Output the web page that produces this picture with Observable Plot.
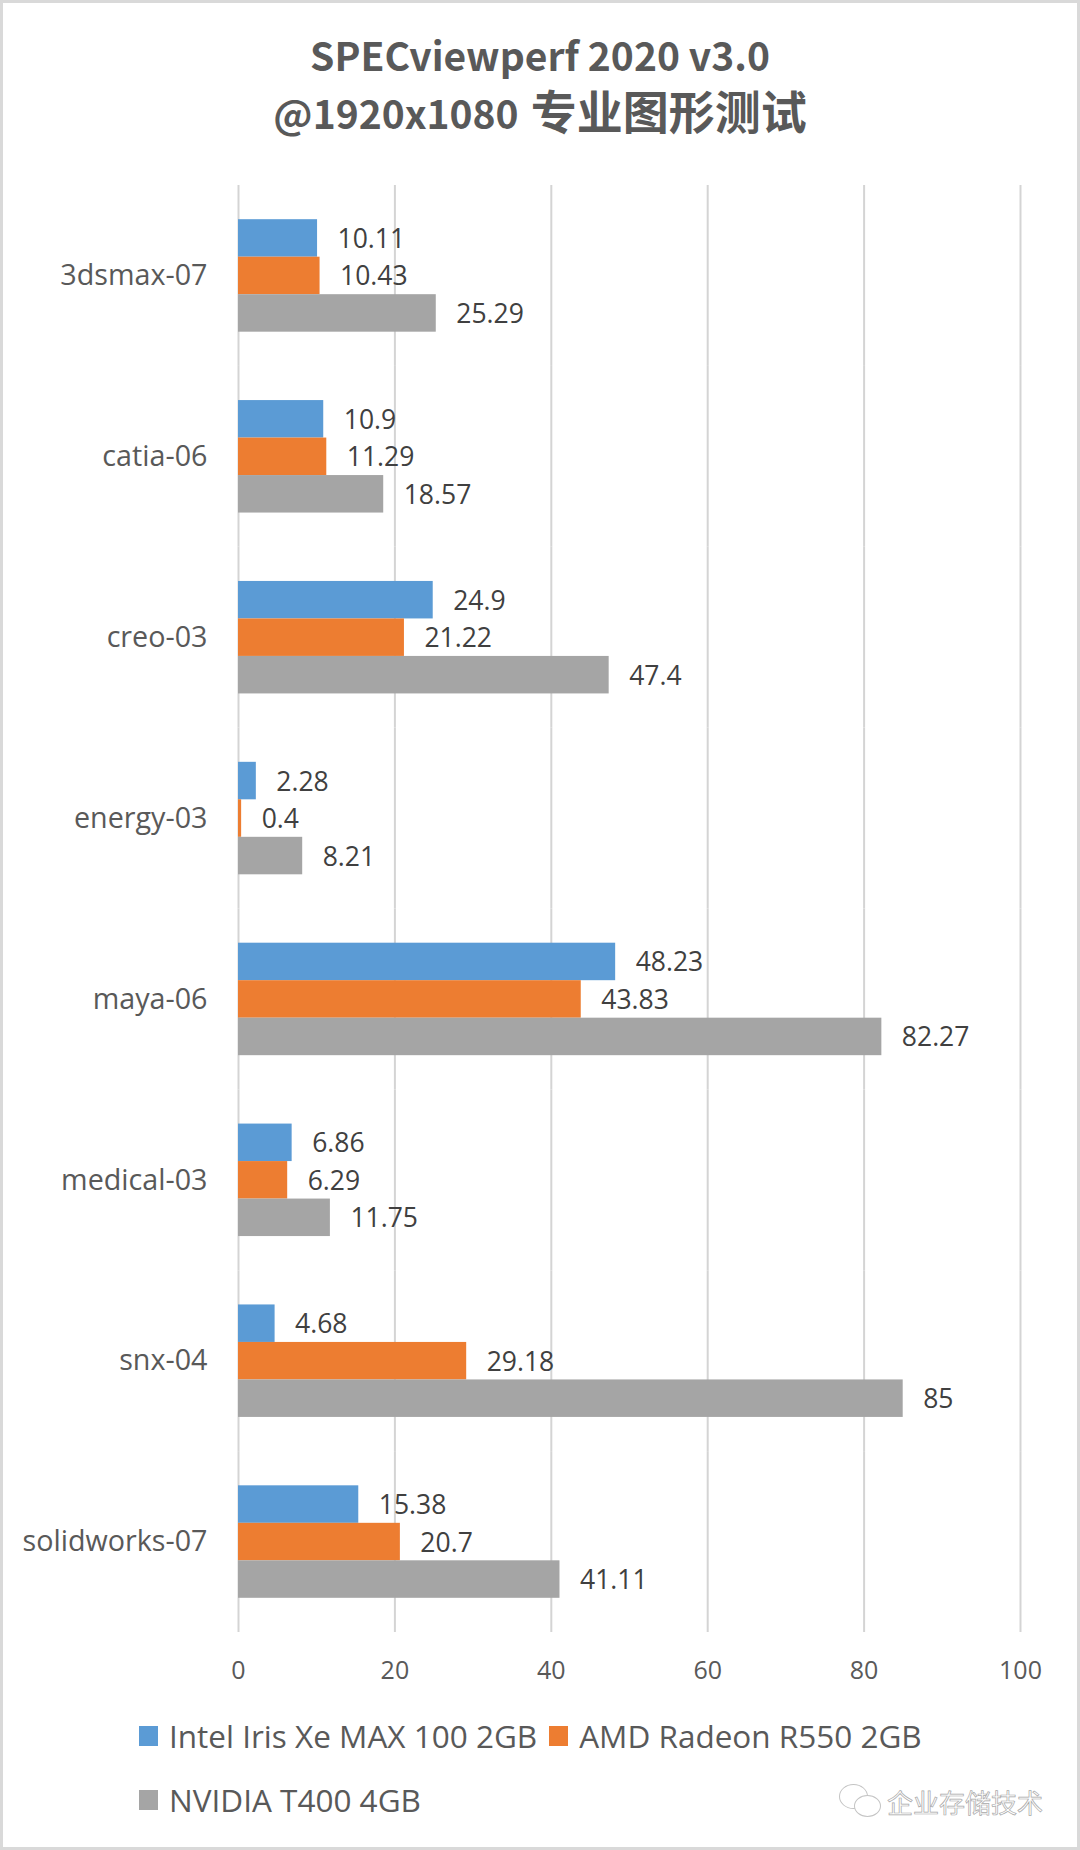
<!DOCTYPE html>
<html lang="zh">
<head>
<meta charset="utf-8">
<script src="https://cdn.jsdelivr.net/npm/d3@7"></script>
<script src="https://cdn.jsdelivr.net/npm/@observablehq/plot@0.6"></script>
<style>
  html, body { margin: 0; padding: 0; background: #fff; }
  #page { position: relative; width: 1080px; height: 1850px; overflow: hidden; background: #fff; font-family: "Open Sans", sans-serif; }
  #frame { position: absolute; inset: 0; border: 3px solid #d9d9d9; box-sizing: border-box; pointer-events: none; }
  #title { height: 160px; padding-top: 27px; box-sizing: border-box; text-align: center; color: #595959; font: 700 39px/55px "Noto Sans CJK SC", "Noto Sans", sans-serif; }
  #title div { white-space: nowrap; }
  #title .big { font-size: 46px; margin-left: 12px; }
  #chart svg { display: block; }
  #legend { position: absolute; left: 139px; top: 1703px; width: 900px; color: #595959; font-size: 31.5px; line-height: 62px; }
  .item { display: inline-flex; align-items: center; margin-right: 12px; white-space: nowrap; height: 62px; }
  .swatch { width: 19px; height: 20px; margin-right: 11px; }
  #mark { position: absolute; left: 839px; top: 1782px; color: #fff; display: flex; align-items: center; }
  #mark .txt { font: 400 26px/40px "Noto Sans CJK SC", sans-serif; -webkit-text-stroke: 0.7px #a8a8a8; margin-left: 48px; white-space: nowrap; }
  .bub { position: absolute; box-sizing: border-box; border: 1.5px solid #c4c4c4; border-radius: 50%; background: #fff; }
</style>
</head>
<body>
<div id="page">
  <div id="title"><div>SPECviewperf 2020 v3.0</div><div>@1920x1080<span class="big">专业图形测试</span></div></div>
  <div id="chart"></div>
  <div id="legend"></div>
  <div id="mark">
    <div class="bub" style="left:0;top:2px;width:29px;height:25px"></div>
    <div class="bub" style="left:15px;top:13px;width:27px;height:22px"></div>
    <div class="txt">企业存储技术</div>
  </div>
  <div id="frame"></div>
</div>
<script>
const categories = ["3dsmax-07", "catia-06", "creo-03", "energy-03", "maya-06", "medical-03", "snx-04", "solidworks-07"];
const seriesNames = ["Intel Iris Xe MAX 100 2GB", "AMD Radeon R550 2GB", "NVIDIA T400 4GB"];
const seriesColors = ["#5b9bd5", "#ed7d31", "#a5a5a5"];
const intel = [10.11, 10.9, 24.9, 2.28, 48.23, 6.86, 4.68, 15.38];
const amd = [10.43, 11.29, 21.22, 0.4, 43.83, 6.29, 29.18, 20.7];
const nvidia = [25.29, 18.57, 47.4, 8.21, 82.27, 11.75, 85, 41.11];
const xTicks = [0, 20, 40, 60, 80, 100];

const seriesValues = [intel, amd, nvidia];
const rows = seriesNames.flatMap((series, s) =>
  categories.map((category, c) => ({category, series, value: seriesValues[s][c]}))
);

const plot = Plot.plot({
  width: 1080,
  height: 1540,
  marginTop: 25,
  marginBottom: 68,
  marginLeft: 238,
  marginRight: 60,
  style: {fontFamily: '"Open Sans", sans-serif', background: "transparent"},
  x: {domain: [0, 100], label: null, axis: null},
  y: {domain: seriesNames, axis: null, paddingInner: 0, paddingOuter: 0.912, round: false},
  fy: {domain: categories, padding: 0, label: null, axis: null, round: false},
  color: {domain: seriesNames, range: seriesColors},
  marks: [
    Plot.ruleX(xTicks, {stroke: "#d4d4d4", strokeWidth: 2}),
    Plot.barX(rows, {x: "value", y: "series", fy: "category", fill: "series"}),
    Plot.text(rows, {x: "value", y: "series", fy: "category", text: d => String(d.value), dx: 20, dy: 1, textAnchor: "start", fontSize: 26.5, fill: "#404040"}),
    Plot.axisFy({anchor: "left", tickSize: 0, tickPadding: 31, fontSize: 28.7, color: "#595959", label: null, lineAnchor: "middle"}),
    Plot.axisX({ticks: xTicks, anchor: "bottom", tickSize: 0, tickPadding: 29, fontSize: 25, color: "#595959", label: null, tickFormat: d => String(d)})
  ]
});
document.getElementById("chart").append(plot);

const legend = document.getElementById("legend");
seriesNames.forEach((name, i) => {
  const item = document.createElement("div");
  item.className = "item";
  const sw = document.createElement("span");
  sw.className = "swatch";
  sw.style.background = seriesColors[i];
  const label = document.createElement("span");
  label.textContent = name;
  item.append(sw, label);
  legend.append(item);
  if (i === 1) legend.append(document.createElement("br"));
});
</script>
</body>
</html>
